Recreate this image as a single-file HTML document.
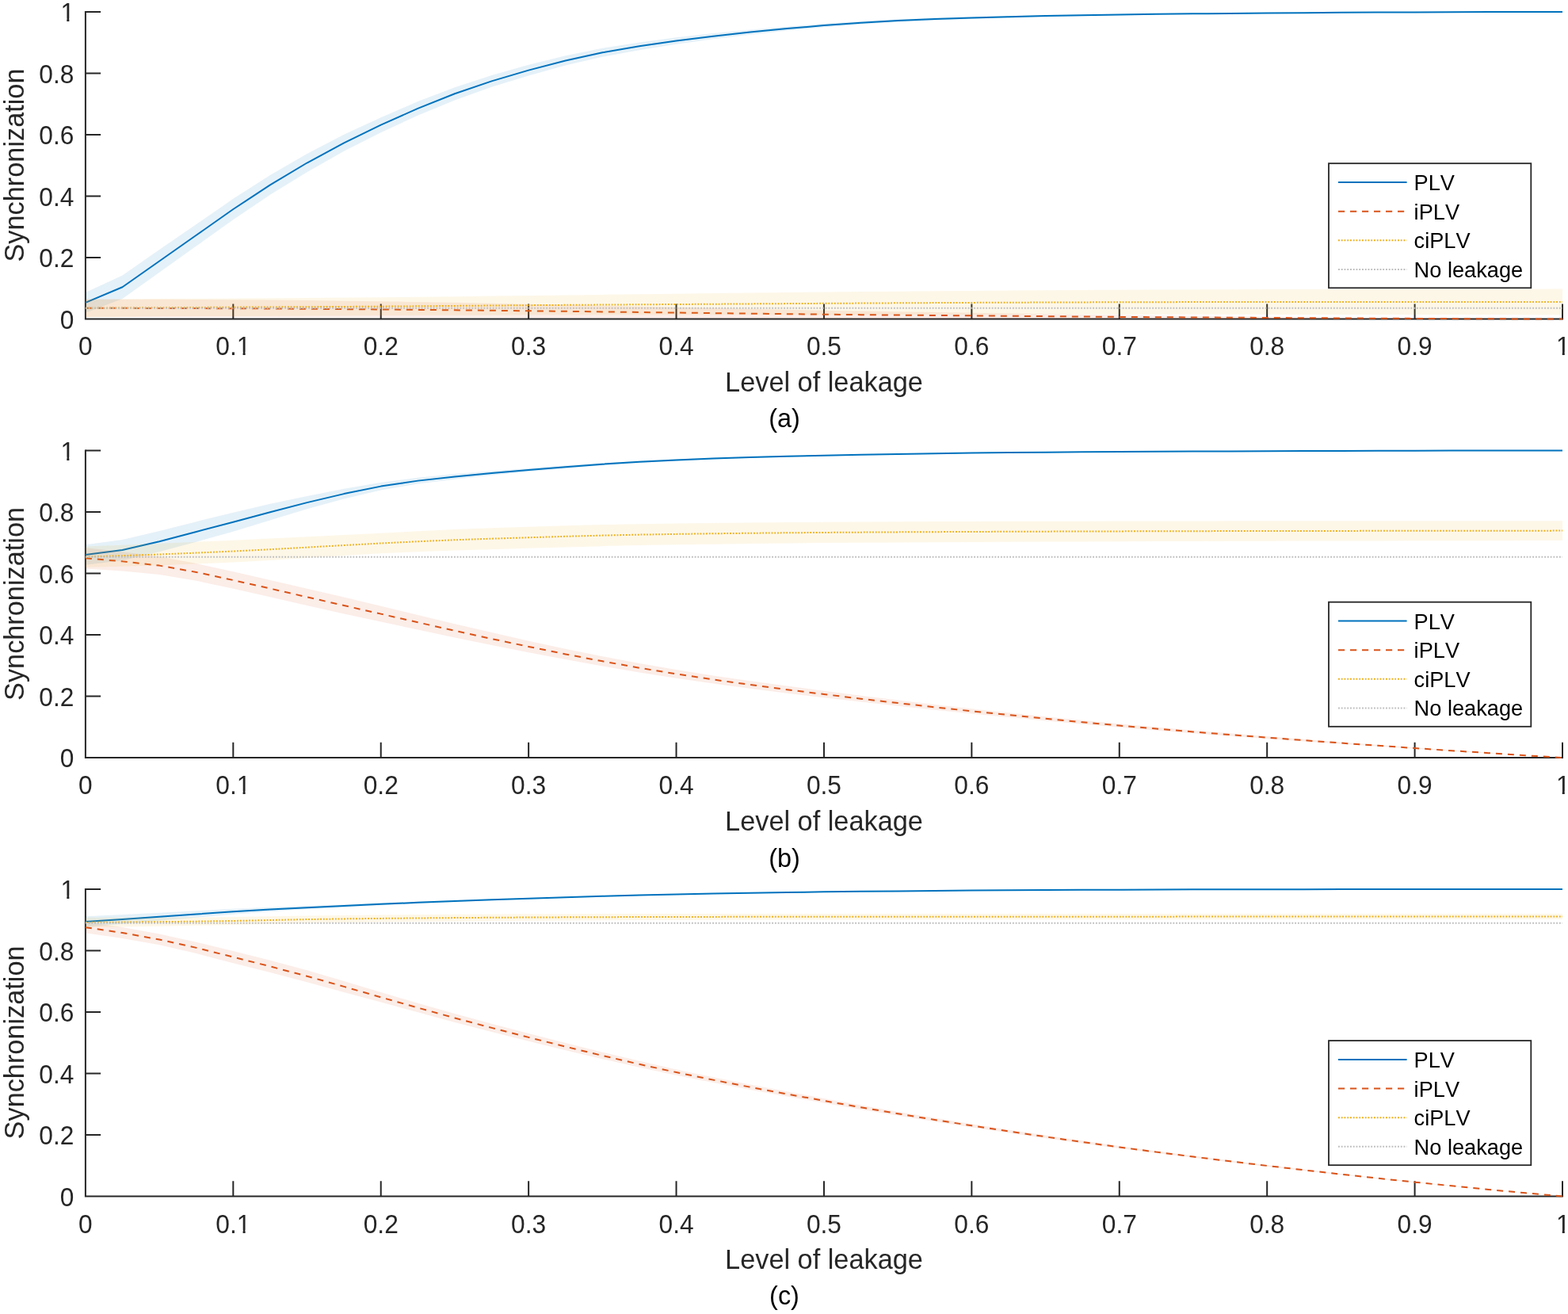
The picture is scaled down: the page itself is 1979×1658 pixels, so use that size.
<!DOCTYPE html>
<html lang="en">
<head>
<meta charset="utf-8">
<title>Synchronization vs. level of leakage</title>
<style>
html,body{margin:0;padding:0;background:#fff;}
body{width:1979px;height:1658px;}
svg{display:block;}
text{font-family:"Liberation Sans", Arial, Helvetica, sans-serif;font-kerning:none;font-variant-ligatures:none;}
.tk{font-size:31.7px;fill:#262626;}
.lb{font-size:34.3px;fill:#262626;}
.lg{font-size:27.2px;fill:#000;}
.cap{font-size:32.4px;fill:#000;}
.ax{stroke:#262626;stroke-width:2.0;fill:none;stroke-linecap:butt;}
</style>
</head>
<body>
<svg width="1979" height="1658" viewBox="0 0 1979 1658" role="img" aria-label="Synchronization versus level of leakage for PLV, iPLV and ciPLV">
<rect x="0" y="0" width="1979" height="1658" fill="#ffffff"/>
<defs><clipPath id="c1e" clipPathUnits="userSpaceOnUse"><rect x="-18.63" y="-30" width="19.63" height="26.03"/><rect x="-9.78" y="-4.47" width="3.04" height="5.47"/></clipPath><clipPath id="c1m" clipPathUnits="userSpaceOnUse"><rect x="-9.82" y="-30" width="19.63" height="26.03"/><rect x="-0.96" y="-4.47" width="3.04" height="5.47"/></clipPath><clipPath id="c01m" clipPathUnits="userSpaceOnUse"><rect x="-24.03" y="-30" width="29.94" height="40"/><rect x="3.4" y="-30" width="19.63" height="26.03"/><rect x="12.26" y="-4.47" width="3.04" height="5.47"/></clipPath></defs>
<g id="panel-a">
<path class="ax" d="M107.9 14 V402.6 H1973"/>
<path class="ax" d="M294.31 402.6 v-19.2M480.72 402.6 v-19.2M667.13 402.6 v-19.2M853.54 402.6 v-19.2M1039.95 402.6 v-19.2M1226.36 402.6 v-19.2M1412.77 402.6 v-19.2M1599.18 402.6 v-19.2M1785.59 402.6 v-19.2M1972 402.6 v-19.2M107.9 325.08 h19.2M107.9 247.56 h19.2M107.9 170.04 h19.2M107.9 92.52 h19.2M107.9 15 h19.2"/>
<polygon points="107.9,369.07 154.5,347.56 201.11,315.12 247.71,282.97 294.31,250.85 340.91,220.95 387.51,193.88 434.12,169.77 480.72,148.14 527.32,128.12 573.92,110.16 620.53,94.95 667.13,81.86 713.73,70.34 760.34,60.78 806.94,53.38 853.54,47.17 900.14,42.01 946.75,37.48 993.35,33.45 1039.95,29.73 1086.55,26.72 1133.16,24.27 1179.76,22.56 1226.36,21.2 1272.96,20.04 1319.57,19.09 1366.17,18.34 1412.77,17.71 1459.37,17.18 1505.97,16.74 1552.58,16.39 1599.18,16.11 1645.78,15.83 1692.39,15.56 1738.99,15.34 1785.59,15.2 1832.19,15.11 1878.8,15.03 1925.4,14.99 1972,15 1972,15 1925.4,15.07 1878.8,15.21 1832.19,15.38 1785.59,15.58 1738.99,15.84 1692.39,16.18 1645.78,16.58 1599.18,16.99 1552.58,17.42 1505.97,17.92 1459.37,18.53 1412.77,19.26 1366.17,20.12 1319.57,21.14 1272.96,22.41 1226.36,23.91 1179.76,25.67 1133.16,27.83 1086.55,30.8 1039.95,34.38 993.35,38.8 946.75,43.68 900.14,49.31 853.54,55.7 806.94,63.13 760.34,71.78 713.73,82.61 667.13,95.43 620.53,109.86 573.92,126.44 527.32,145.68 480.72,167.13 434.12,190.86 387.51,217.13 340.91,245.87 294.31,277.21 247.71,310.6 201.11,343.8 154.5,377.02 107.9,394.65" fill="#0072BD" fill-opacity="0.1" stroke="none"/>
<polyline points="107.9,381.86 154.5,362.29 201.11,329.46 247.71,296.79 294.31,264.03 340.91,233.41 387.51,205.51 434.12,180.31 480.72,157.64 527.32,136.9 573.92,118.3 620.53,102.4 667.13,88.64 713.73,76.47 760.34,66.28 806.94,58.26 853.54,51.43 900.14,45.66 946.75,40.58 993.35,36.12 1039.95,32.05 1086.55,28.76 1133.16,26.05 1179.76,24.12 1226.36,22.56 1272.96,21.22 1319.57,20.12 1366.17,19.23 1412.77,18.49 1459.37,17.85 1505.97,17.33 1552.58,16.91 1599.18,16.55 1645.78,16.21 1692.39,15.87 1738.99,15.59 1785.59,15.39 1832.19,15.25 1878.8,15.12 1925.4,15.03 1972,15" fill="none" stroke="#0072BD" stroke-width="2.0" stroke-linejoin="round"/>
<polygon points="107.9,377.62 154.5,377.65 201.11,377.78 247.71,377.98 294.31,378.22 340.91,378.56 387.51,379.07 434.12,379.69 480.72,380.34 527.32,381.04 573.92,381.84 620.53,382.72 667.13,383.63 713.73,384.61 760.34,385.65 806.94,386.72 853.54,387.77 900.14,388.8 946.75,389.84 993.35,390.84 1039.95,391.76 1086.55,392.57 1133.16,393.32 1179.76,394.04 1226.36,394.75 1272.96,395.5 1319.57,396.25 1366.17,396.97 1412.77,397.61 1459.37,398.16 1505.97,398.67 1552.58,399.14 1599.18,399.6 1645.78,400.06 1692.39,400.51 1738.99,400.93 1785.59,401.32 1832.19,401.67 1878.8,402.01 1925.4,402.32 1972,402.6 1972,402.6 1925.4,402.58 1878.8,402.55 1832.19,402.52 1785.59,402.49 1738.99,402.45 1692.39,402.42 1645.78,402.38 1599.18,402.34 1552.58,402.3 1505.97,402.26 1459.37,402.21 1412.77,402.17 1366.17,402.11 1319.57,402.05 1272.96,401.98 1226.36,401.92 1179.76,401.86 1133.16,401.79 1086.55,401.73 1039.95,401.66 993.35,401.58 946.75,401.49 900.14,401.4 853.54,401.31 806.94,401.22 760.34,401.13 713.73,401.04 667.13,400.95 620.53,400.87 573.92,400.78 527.32,400.69 480.72,400.6 434.12,400.51 387.51,400.41 340.91,400.32 294.31,400.24 247.71,400.17 201.11,400.1 154.5,400.03 107.9,399.98" fill="#D95319" fill-opacity="0.1" stroke="none"/>
<polyline points="107.9,388.8 154.5,388.84 201.11,388.94 247.71,389.07 294.31,389.23 340.91,389.44 387.51,389.74 434.12,390.1 480.72,390.47 527.32,390.87 573.92,391.31 620.53,391.79 667.13,392.29 713.73,392.82 760.34,393.39 806.94,393.97 853.54,394.54 900.14,395.1 946.75,395.67 993.35,396.21 1039.95,396.71 1086.55,397.15 1133.16,397.56 1179.76,397.95 1226.36,398.34 1272.96,398.74 1319.57,399.15 1366.17,399.54 1412.77,399.89 1459.37,400.19 1505.97,400.46 1552.58,400.72 1599.18,400.97 1645.78,401.22 1692.39,401.46 1738.99,401.69 1785.59,401.9 1832.19,402.1 1878.8,402.28 1925.4,402.45 1972,402.6" fill="none" stroke="#D95319" stroke-width="2.0" stroke-linejoin="round" stroke-dasharray="8 7"/>
<polygon points="107.9,377.68 154.5,377.38 201.11,377.08 247.71,376.77 294.31,376.47 340.91,376.17 387.51,375.88 434.12,375.58 480.72,375.24 527.32,374.78 573.92,374.2 620.53,373.57 667.13,372.99 713.73,372.44 760.34,371.88 806.94,371.3 853.54,370.71 900.14,370.11 946.75,369.53 993.35,368.98 1039.95,368.49 1086.55,368.05 1133.16,367.63 1179.76,367.24 1226.36,366.88 1272.96,366.56 1319.57,366.26 1366.17,366 1412.77,365.78 1459.37,365.58 1505.97,365.4 1552.58,365.24 1599.18,365.12 1645.78,365.02 1692.39,364.93 1738.99,364.85 1785.59,364.78 1832.19,364.72 1878.8,364.67 1925.4,364.64 1972,364.62 1972,397.17 1925.4,397.15 1878.8,397.12 1832.19,397.09 1785.59,397.05 1738.99,397 1692.39,396.94 1645.78,396.89 1599.18,396.83 1552.58,396.78 1505.97,396.77 1459.37,396.77 1412.77,396.79 1366.17,396.81 1319.57,396.84 1272.96,396.88 1226.36,396.92 1179.76,396.97 1133.16,397.03 1086.55,397.1 1039.95,397.17 993.35,397.23 946.75,397.27 900.14,397.28 853.54,397.28 806.94,397.25 760.34,397.24 713.73,397.25 667.13,397.33 620.53,397.47 573.92,397.66 527.32,397.87 480.72,398.1 434.12,398.32 387.51,398.5 340.91,398.68 294.31,398.89 247.71,399.12 201.11,399.37 154.5,399.64 107.9,399.93" fill="#EDB120" fill-opacity="0.1" stroke="none"/>
<polyline points="107.9,388.8 154.5,388.51 201.11,388.22 247.71,387.95 294.31,387.68 340.91,387.43 387.51,387.19 434.12,386.95 480.72,386.67 527.32,386.33 573.92,385.93 620.53,385.52 667.13,385.16 713.73,384.85 760.34,384.56 806.94,384.28 853.54,384 900.14,383.7 946.75,383.4 993.35,383.1 1039.95,382.83 1086.55,382.58 1133.16,382.33 1179.76,382.1 1226.36,381.9 1272.96,381.72 1319.57,381.55 1366.17,381.4 1412.77,381.28 1459.37,381.18 1505.97,381.08 1552.58,381.01 1599.18,380.97 1645.78,380.95 1692.39,380.94 1738.99,380.93 1785.59,380.91 1832.19,380.91 1878.8,380.9 1925.4,380.9 1972,380.89" fill="none" stroke="#EDB120" stroke-width="2.0" stroke-linejoin="round" stroke-dasharray="1.9 1.85"/>
<line x1="107.9" y1="388.8" x2="1972" y2="388.8" stroke="#BFBFBF" stroke-width="2.0" stroke-dasharray="1.9 1.85"/>
<g transform="translate(93.4 415) scale(1 1.03)"><text class="tk" text-anchor="end">0</text></g>
<g transform="translate(93.4 337.48) scale(1 1.03)"><text class="tk" text-anchor="end">0.2</text></g>
<g transform="translate(93.4 259.96) scale(1 1.03)"><text class="tk" text-anchor="end">0.4</text></g>
<g transform="translate(93.4 182.44) scale(1 1.03)"><text class="tk" text-anchor="end">0.6</text></g>
<g transform="translate(93.4 104.92) scale(1 1.03)"><text class="tk" text-anchor="end">0.8</text></g>
<g transform="translate(94.1 27.4) scale(1 1.03)" clip-path="url(#c1e)"><text class="tk" text-anchor="end">1</text></g>
<g transform="translate(107.9 448.4) scale(1 1.03)"><text class="tk" text-anchor="middle">0</text></g>
<g transform="translate(294.31 448.4) scale(1 1.03)" clip-path="url(#c01m)"><text class="tk" text-anchor="middle">0.1</text></g>
<g transform="translate(480.72 448.4) scale(1 1.03)"><text class="tk" text-anchor="middle">0.2</text></g>
<g transform="translate(667.13 448.4) scale(1 1.03)"><text class="tk" text-anchor="middle">0.3</text></g>
<g transform="translate(853.54 448.4) scale(1 1.03)"><text class="tk" text-anchor="middle">0.4</text></g>
<g transform="translate(1039.95 448.4) scale(1 1.03)"><text class="tk" text-anchor="middle">0.5</text></g>
<g transform="translate(1226.36 448.4) scale(1 1.03)"><text class="tk" text-anchor="middle">0.6</text></g>
<g transform="translate(1412.77 448.4) scale(1 1.03)"><text class="tk" text-anchor="middle">0.7</text></g>
<g transform="translate(1599.18 448.4) scale(1 1.03)"><text class="tk" text-anchor="middle">0.8</text></g>
<g transform="translate(1785.59 448.4) scale(1 1.03)"><text class="tk" text-anchor="middle">0.9</text></g>
<g transform="translate(1972.7 448.4) scale(1 1.03)" clip-path="url(#c1m)"><text class="tk" text-anchor="middle">1</text></g>
<text class="lb" x="1040" y="493.8" text-anchor="middle">Level of leakage</text>
<text class="lb" transform="translate(30.4 208.5) rotate(-90)" text-anchor="middle">Synchronization</text>
<text class="cap" x="990" y="539" text-anchor="middle">(a)</text>
<g id="legend-a">
<rect x="1677" y="206.2" width="255.3" height="157.1" fill="#fff" stroke="#262626" stroke-width="1.8"/>
<line x1="1689" y1="230.1" x2="1775.6" y2="230.1" stroke="#0072BD" stroke-width="2.0"/>
<text class="lg" transform="translate(1784.6 240.1) scale(1 1.035)">PLV</text>
<line x1="1689" y1="266.7" x2="1775.6" y2="266.7" stroke="#D95319" stroke-width="2.0" stroke-dasharray="8.2 6.8"/>
<text class="lg" transform="translate(1784.6 276.7) scale(1 1.035)">iPLV</text>
<line x1="1689" y1="303.3" x2="1775.6" y2="303.3" stroke="#EDB120" stroke-width="2.0" stroke-dasharray="1.9 1.85"/>
<text class="lg" transform="translate(1784.6 313.3) scale(1 1.035)">ciPLV</text>
<line x1="1689" y1="339.9" x2="1775.6" y2="339.9" stroke="#BFBFBF" stroke-width="2.0" stroke-dasharray="1.9 1.85"/>
<text class="lg" transform="translate(1784.6 349.9) scale(1 1.035)">No leakage</text>
</g>
</g>
<g id="panel-b">
<path class="ax" d="M107.9 567.45 V956.05 H1973"/>
<path class="ax" d="M294.31 956.05 v-19.2M480.72 956.05 v-19.2M667.13 956.05 v-19.2M853.54 956.05 v-19.2M1039.95 956.05 v-19.2M1226.36 956.05 v-19.2M1412.77 956.05 v-19.2M1599.18 956.05 v-19.2M1785.59 956.05 v-19.2M1972 956.05 v-19.2M107.9 878.53 h19.2M107.9 801.01 h19.2M107.9 723.49 h19.2M107.9 645.97 h19.2M107.9 568.45 h19.2"/>
<polygon points="107.9,687.25 154.5,680.9 201.11,670 247.71,658.15 294.31,646.67 340.91,635.8 387.51,626.02 434.12,616.79 480.72,608.76 527.32,602.65 573.92,598.06 620.53,594.17 667.13,590.7 713.73,587.22 760.34,584.07 806.94,581.48 853.54,579.3 900.14,577.53 946.75,576.09 993.35,574.94 1039.95,573.99 1086.55,573.16 1133.16,572.39 1179.76,571.71 1226.36,571.16 1272.96,570.72 1319.57,570.34 1366.17,570.02 1412.77,569.77 1459.37,569.57 1505.97,569.4 1552.58,569.25 1599.18,569.11 1645.78,568.97 1692.39,568.82 1738.99,568.7 1785.59,568.61 1832.19,568.56 1878.8,568.5 1925.4,568.46 1972,568.45 1972,568.45 1925.4,568.47 1878.8,568.52 1832.19,568.59 1785.59,568.67 1738.99,568.79 1692.39,568.95 1645.78,569.14 1599.18,569.34 1552.58,569.53 1505.97,569.73 1459.37,569.96 1412.77,570.23 1366.17,570.56 1319.57,570.95 1272.96,571.41 1226.36,571.94 1179.76,572.58 1133.16,573.38 1086.55,574.3 1039.95,575.31 993.35,576.47 946.75,577.86 900.14,579.56 853.54,581.63 806.94,584.2 760.34,587.33 713.73,591.13 667.13,595.35 620.53,599.71 573.92,604.73 527.32,610.61 480.72,618.45 434.12,629.41 387.51,642.28 340.91,656.53 294.31,670.7 247.71,683.79 201.11,696.36 154.5,707.16 107.9,712.83" fill="#0072BD" fill-opacity="0.1" stroke="none"/>
<polyline points="107.9,700.04 154.5,694.03 201.11,683.18 247.71,670.97 294.31,658.68 340.91,646.16 387.51,634.15 434.12,623.1 480.72,613.61 527.32,606.63 573.92,601.4 620.53,596.94 667.13,593.02 713.73,589.17 760.34,585.7 806.94,582.84 853.54,580.47 900.14,578.55 946.75,576.98 993.35,575.7 1039.95,574.65 1086.55,573.73 1133.16,572.88 1179.76,572.15 1226.36,571.55 1272.96,571.07 1319.57,570.65 1366.17,570.29 1412.77,570 1459.37,569.77 1505.97,569.57 1552.58,569.39 1599.18,569.23 1645.78,569.05 1692.39,568.89 1738.99,568.74 1785.59,568.64 1832.19,568.57 1878.8,568.51 1925.4,568.47 1972,568.45" fill="none" stroke="#0072BD" stroke-width="2.0" stroke-linejoin="round"/>
<polygon points="107.9,691.13 154.5,696.16 201.11,702.18 247.71,711.06 294.31,721.36 340.91,731.95 387.51,742.71 434.12,753.54 480.72,764.73 527.32,776.05 573.92,787.16 620.53,798.09 667.13,808.68 713.73,818.73 760.34,828.19 806.94,837.01 853.54,845.12 900.14,852.43 946.75,859.19 993.35,865.59 1039.95,871.72 1086.55,877.66 1133.16,883.39 1179.76,888.94 1226.36,894.23 1272.96,899.26 1319.57,904.14 1366.17,908.82 1412.77,913.26 1459.37,917.47 1505.97,921.47 1552.58,925.34 1599.18,929.11 1645.78,932.8 1692.39,936.38 1738.99,939.86 1785.59,943.26 1832.19,946.58 1878.8,949.82 1925.4,952.98 1972,956.05 1972,956.05 1925.4,953.37 1878.8,950.59 1832.19,947.74 1785.59,944.81 1738.99,941.8 1692.39,938.7 1645.78,935.51 1599.18,932.21 1552.58,928.82 1505.97,925.32 1459.37,921.67 1412.77,917.83 1366.17,913.75 1319.57,909.47 1272.96,905.01 1226.36,900.43 1179.76,895.67 1133.16,890.72 1086.55,885.62 1039.95,880.3 993.35,874.73 946.75,868.8 900.14,862.49 853.54,855.74 806.94,848.38 760.34,840.49 713.73,832.07 667.13,823.19 620.53,813.96 573.92,804.4 527.32,794.53 480.72,784.58 434.12,774.47 387.51,763.96 340.91,753.23 294.31,742.68 247.71,732.82 201.11,725.03 154.5,720.59 107.9,717.48" fill="#D95319" fill-opacity="0.1" stroke="none"/>
<polyline points="107.9,704.3 154.5,708.37 201.11,713.61 247.71,721.94 294.31,732.02 340.91,742.59 387.51,753.34 434.12,764.01 480.72,774.65 527.32,785.29 573.92,795.78 620.53,806.03 667.13,815.93 713.73,825.4 760.34,834.34 806.94,842.69 853.54,850.43 900.14,857.46 946.75,864 993.35,870.16 1039.95,876.01 1086.55,881.64 1133.16,887.06 1179.76,892.31 1226.36,897.33 1272.96,902.13 1319.57,906.8 1366.17,911.29 1412.77,915.55 1459.37,919.57 1505.97,923.4 1552.58,927.08 1599.18,930.66 1645.78,934.15 1692.39,937.54 1738.99,940.83 1785.59,944.03 1832.19,947.16 1878.8,950.21 1925.4,953.17 1972,956.05" fill="none" stroke="#D95319" stroke-width="2.0" stroke-linejoin="round" stroke-dasharray="8 7"/>
<polygon points="107.9,689.46 154.5,687.65 201.11,685.72 247.71,683.7 294.31,681.63 340.91,679.46 387.51,677.27 434.12,675.07 480.72,672.71 527.32,670.34 573.92,668.1 620.53,666.24 667.13,664.69 713.73,663.3 760.34,662.1 806.94,661.17 853.54,660.46 900.14,659.92 946.75,659.46 993.35,659.07 1039.95,658.76 1086.55,658.51 1133.16,658.29 1179.76,658.11 1226.36,657.96 1272.96,657.83 1319.57,657.72 1366.17,657.63 1412.77,657.55 1459.37,657.47 1505.97,657.41 1552.58,657.35 1599.18,657.32 1645.78,657.3 1692.39,657.29 1738.99,657.28 1785.59,657.27 1832.19,657.26 1878.8,657.24 1925.4,657.23 1972,657.21 1972,682.02 1925.4,682.1 1878.8,682.18 1832.19,682.26 1785.59,682.34 1738.99,682.43 1692.39,682.51 1645.78,682.59 1599.18,682.68 1552.58,682.8 1505.97,682.93 1459.37,683.08 1412.77,683.23 1366.17,683.39 1319.57,683.57 1272.96,683.76 1226.36,683.98 1179.76,684.21 1133.16,684.48 1086.55,684.77 1039.95,685.12 993.35,685.53 946.75,686.04 900.14,686.63 853.54,687.29 806.94,688.12 760.34,689.14 713.73,690.4 667.13,691.82 620.53,693.13 573.92,694.46 527.32,696.16 480.72,698.3 434.12,701.01 387.51,704.01 340.91,707.01 294.31,709.54 247.71,711.53 201.11,713.29 154.5,714.74 107.9,715.82" fill="#EDB120" fill-opacity="0.1" stroke="none"/>
<polyline points="107.9,702.64 154.5,701.19 201.11,699.5 247.71,697.62 294.31,695.58 340.91,693.23 387.51,690.64 434.12,688.04 480.72,685.51 527.32,683.25 573.92,681.28 620.53,679.68 667.13,678.26 713.73,676.85 760.34,675.62 806.94,674.65 853.54,673.88 900.14,673.27 946.75,672.75 993.35,672.3 1039.95,671.94 1086.55,671.64 1133.16,671.38 1179.76,671.16 1226.36,670.97 1272.96,670.8 1319.57,670.65 1366.17,670.51 1412.77,670.39 1459.37,670.27 1505.97,670.17 1552.58,670.08 1599.18,670 1645.78,669.94 1692.39,669.9 1738.99,669.85 1785.59,669.81 1832.19,669.76 1878.8,669.71 1925.4,669.66 1972,669.61" fill="none" stroke="#EDB120" stroke-width="2.0" stroke-linejoin="round" stroke-dasharray="1.9 1.85"/>
<line x1="107.9" y1="702.75" x2="1972" y2="702.75" stroke="#BFBFBF" stroke-width="2.0" stroke-dasharray="1.9 1.85"/>
<g transform="translate(93.4 968.45) scale(1 1.03)"><text class="tk" text-anchor="end">0</text></g>
<g transform="translate(93.4 890.93) scale(1 1.03)"><text class="tk" text-anchor="end">0.2</text></g>
<g transform="translate(93.4 813.41) scale(1 1.03)"><text class="tk" text-anchor="end">0.4</text></g>
<g transform="translate(93.4 735.89) scale(1 1.03)"><text class="tk" text-anchor="end">0.6</text></g>
<g transform="translate(93.4 658.37) scale(1 1.03)"><text class="tk" text-anchor="end">0.8</text></g>
<g transform="translate(94.1 580.85) scale(1 1.03)" clip-path="url(#c1e)"><text class="tk" text-anchor="end">1</text></g>
<g transform="translate(107.9 1002.35) scale(1 1.03)"><text class="tk" text-anchor="middle">0</text></g>
<g transform="translate(294.31 1002.35) scale(1 1.03)" clip-path="url(#c01m)"><text class="tk" text-anchor="middle">0.1</text></g>
<g transform="translate(480.72 1002.35) scale(1 1.03)"><text class="tk" text-anchor="middle">0.2</text></g>
<g transform="translate(667.13 1002.35) scale(1 1.03)"><text class="tk" text-anchor="middle">0.3</text></g>
<g transform="translate(853.54 1002.35) scale(1 1.03)"><text class="tk" text-anchor="middle">0.4</text></g>
<g transform="translate(1039.95 1002.35) scale(1 1.03)"><text class="tk" text-anchor="middle">0.5</text></g>
<g transform="translate(1226.36 1002.35) scale(1 1.03)"><text class="tk" text-anchor="middle">0.6</text></g>
<g transform="translate(1412.77 1002.35) scale(1 1.03)"><text class="tk" text-anchor="middle">0.7</text></g>
<g transform="translate(1599.18 1002.35) scale(1 1.03)"><text class="tk" text-anchor="middle">0.8</text></g>
<g transform="translate(1785.59 1002.35) scale(1 1.03)"><text class="tk" text-anchor="middle">0.9</text></g>
<g transform="translate(1972.7 1002.35) scale(1 1.03)" clip-path="url(#c1m)"><text class="tk" text-anchor="middle">1</text></g>
<text class="lb" x="1040" y="1047.75" text-anchor="middle">Level of leakage</text>
<text class="lb" transform="translate(30.4 761.95) rotate(-90)" text-anchor="middle">Synchronization</text>
<text class="cap" x="990" y="1094.25" text-anchor="middle">(b)</text>
<g id="legend-b">
<rect x="1677" y="759.7" width="255.3" height="157.1" fill="#fff" stroke="#262626" stroke-width="1.8"/>
<line x1="1689" y1="783.6" x2="1775.6" y2="783.6" stroke="#0072BD" stroke-width="2.0"/>
<text class="lg" transform="translate(1784.6 793.6) scale(1 1.035)">PLV</text>
<line x1="1689" y1="820.2" x2="1775.6" y2="820.2" stroke="#D95319" stroke-width="2.0" stroke-dasharray="8.2 6.8"/>
<text class="lg" transform="translate(1784.6 830.2) scale(1 1.035)">iPLV</text>
<line x1="1689" y1="856.8" x2="1775.6" y2="856.8" stroke="#EDB120" stroke-width="2.0" stroke-dasharray="1.9 1.85"/>
<text class="lg" transform="translate(1784.6 866.8) scale(1 1.035)">ciPLV</text>
<line x1="1689" y1="893.4" x2="1775.6" y2="893.4" stroke="#BFBFBF" stroke-width="2.0" stroke-dasharray="1.9 1.85"/>
<text class="lg" transform="translate(1784.6 903.4) scale(1 1.035)">No leakage</text>
</g>
</g>
<g id="panel-c">
<path class="ax" d="M107.9 1120.88 V1509.48 H1973"/>
<path class="ax" d="M294.31 1509.48 v-19.2M480.72 1509.48 v-19.2M667.13 1509.48 v-19.2M853.54 1509.48 v-19.2M1039.95 1509.48 v-19.2M1226.36 1509.48 v-19.2M1412.77 1509.48 v-19.2M1599.18 1509.48 v-19.2M1785.59 1509.48 v-19.2M1972 1509.48 v-19.2M107.9 1431.96 h19.2M107.9 1354.44 h19.2M107.9 1276.92 h19.2M107.9 1199.4 h19.2M107.9 1121.88 h19.2"/>
<polygon points="107.9,1156.26 154.5,1154.04 201.11,1151.73 247.71,1149.21 294.31,1146.8 340.91,1144.85 387.51,1143 434.12,1141.13 480.72,1139.32 527.32,1137.52 573.92,1135.83 620.53,1134.35 667.13,1132.93 713.73,1131.49 760.34,1130.16 806.94,1128.98 853.54,1127.94 900.14,1127.05 946.75,1126.27 993.35,1125.57 1039.95,1124.98 1086.55,1124.49 1133.16,1124.05 1179.76,1123.67 1226.36,1123.35 1272.96,1123.08 1319.57,1122.85 1366.17,1122.65 1412.77,1122.49 1459.37,1122.36 1505.97,1122.25 1552.58,1122.17 1599.18,1122.11 1645.78,1122.07 1692.39,1122.03 1738.99,1121.99 1785.59,1121.95 1832.19,1121.92 1878.8,1121.9 1925.4,1121.89 1972,1121.88 1972,1121.88 1925.4,1121.89 1878.8,1121.91 1832.19,1121.95 1785.59,1121.99 1738.99,1122.05 1692.39,1122.12 1645.78,1122.19 1599.18,1122.27 1552.58,1122.37 1505.97,1122.49 1459.37,1122.65 1412.77,1122.82 1366.17,1123.03 1319.57,1123.28 1272.96,1123.57 1226.36,1123.9 1179.76,1124.27 1133.16,1124.71 1086.55,1125.21 1039.95,1125.76 993.35,1126.41 946.75,1127.18 900.14,1128.03 853.54,1129 806.94,1130.13 760.34,1131.43 713.73,1132.89 667.13,1134.48 620.53,1136.15 573.92,1138 527.32,1140.14 480.72,1142.42 434.12,1144.73 387.51,1147.27 340.91,1150.31 294.31,1153.78 247.71,1157.69 201.11,1161.8 154.5,1165.81 107.9,1169.83" fill="#0072BD" fill-opacity="0.1" stroke="none"/>
<polyline points="107.9,1163.04 154.5,1159.93 201.11,1156.76 247.71,1153.45 294.31,1150.29 340.91,1147.58 387.51,1145.14 434.12,1142.93 480.72,1140.87 527.32,1138.83 573.92,1136.92 620.53,1135.25 667.13,1133.7 713.73,1132.19 760.34,1130.79 806.94,1129.56 853.54,1128.47 900.14,1127.54 946.75,1126.73 993.35,1125.99 1039.95,1125.37 1086.55,1124.85 1133.16,1124.38 1179.76,1123.97 1226.36,1123.62 1272.96,1123.33 1319.57,1123.06 1366.17,1122.84 1412.77,1122.66 1459.37,1122.51 1505.97,1122.37 1552.58,1122.27 1599.18,1122.19 1645.78,1122.13 1692.39,1122.07 1738.99,1122.02 1785.59,1121.97 1832.19,1121.93 1878.8,1121.91 1925.4,1121.89 1972,1121.88" fill="none" stroke="#0072BD" stroke-width="2.0" stroke-linejoin="round"/>
<polygon points="107.9,1162.97 154.5,1170.07 201.11,1178.55 247.71,1188.66 294.31,1200.02 340.91,1211.84 387.51,1224.21 434.12,1237.91 480.72,1252.11 527.32,1265.76 573.92,1279.05 620.53,1291.75 667.13,1304.05 713.73,1316.09 760.34,1327.72 806.94,1338.86 853.54,1349.4 900.14,1359.16 946.75,1368.42 993.35,1377.37 1039.95,1386.03 1086.55,1394.48 1133.16,1402.67 1179.76,1410.57 1226.36,1418.14 1272.96,1425.41 1319.57,1432.49 1366.17,1439.33 1412.77,1445.91 1459.37,1452.23 1505.97,1458.32 1552.58,1464.22 1599.18,1469.94 1645.78,1475.51 1692.39,1480.93 1738.99,1486.16 1785.59,1491.19 1832.19,1496.03 1878.8,1500.7 1925.4,1505.18 1972,1509.48 1972,1509.48 1925.4,1505.4 1878.8,1501.13 1832.19,1496.7 1785.59,1492.11 1738.99,1487.33 1692.39,1482.35 1645.78,1477.19 1599.18,1471.89 1552.58,1466.45 1505.97,1460.84 1459.37,1455.04 1412.77,1449.01 1366.17,1442.74 1319.57,1436.21 1272.96,1429.46 1226.36,1422.53 1179.76,1415.3 1133.16,1407.76 1086.55,1399.94 1039.95,1391.84 993.35,1383.54 946.75,1374.96 900.14,1366.09 853.54,1356.77 806.94,1346.74 760.34,1336.19 713.73,1325.18 667.13,1313.74 620.53,1302.01 573.92,1289.9 527.32,1277.31 480.72,1264.52 434.12,1251.91 387.51,1239.32 340.91,1226.95 294.31,1215.14 247.71,1203.11 201.11,1192.35 154.5,1183.96 107.9,1177.31" fill="#D95319" fill-opacity="0.1" stroke="none"/>
<polyline points="107.9,1170.14 154.5,1177.02 201.11,1185.45 247.71,1195.89 294.31,1207.58 340.91,1219.4 387.51,1231.76 434.12,1244.91 480.72,1258.32 527.32,1271.53 573.92,1284.48 620.53,1296.88 667.13,1308.9 713.73,1320.64 760.34,1331.96 806.94,1342.8 853.54,1353.08 900.14,1362.62 946.75,1371.69 993.35,1380.46 1039.95,1388.94 1086.55,1397.21 1133.16,1405.22 1179.76,1412.94 1226.36,1420.33 1272.96,1427.44 1319.57,1434.35 1366.17,1441.04 1412.77,1447.46 1459.37,1453.63 1505.97,1459.58 1552.58,1465.33 1599.18,1470.91 1645.78,1476.35 1692.39,1481.64 1738.99,1486.75 1785.59,1491.65 1832.19,1496.36 1878.8,1500.91 1925.4,1505.29 1972,1509.48" fill="none" stroke="#D95319" stroke-width="2.0" stroke-linejoin="round" stroke-dasharray="8 7"/>
<polygon points="107.9,1157.73 154.5,1157.76 201.11,1157.68 247.71,1157.47 294.31,1157.09 340.91,1156.33 387.51,1155.5 434.12,1154.92 480.72,1154.47 527.32,1154.09 573.92,1153.75 620.53,1153.47 667.13,1153.28 713.73,1153.15 760.34,1153.07 806.94,1153.02 853.54,1153.02 900.14,1153.04 946.75,1153.06 993.35,1153.08 1039.95,1153.08 1086.55,1153.08 1133.16,1153.08 1179.76,1153.08 1226.36,1153.08 1272.96,1153.08 1319.57,1153.08 1366.17,1153.08 1412.77,1153.08 1459.37,1153.08 1505.97,1153.08 1552.58,1153.08 1599.18,1153.08 1645.78,1153.08 1692.39,1153.08 1738.99,1153.08 1785.59,1153.08 1832.19,1153.08 1878.8,1153.08 1925.4,1153.08 1972,1153.08 1972,1160.06 1925.4,1160.06 1878.8,1160.06 1832.19,1160.07 1785.59,1160.07 1738.99,1160.08 1692.39,1160.09 1645.78,1160.11 1599.18,1160.12 1552.58,1160.14 1505.97,1160.16 1459.37,1160.18 1412.77,1160.2 1366.17,1160.22 1319.57,1160.25 1272.96,1160.28 1226.36,1160.31 1179.76,1160.34 1133.16,1160.37 1086.55,1160.41 1039.95,1160.45 993.35,1160.51 946.75,1160.61 900.14,1160.74 853.54,1160.89 806.94,1161.08 760.34,1161.3 713.73,1161.54 667.13,1161.8 620.53,1162.1 573.92,1162.45 527.32,1162.86 480.72,1163.33 434.12,1163.89 387.51,1164.62 340.91,1165.73 294.31,1166.9 247.71,1167.82 201.11,1168.64 154.5,1169.42 107.9,1170.14" fill="#EDB120" fill-opacity="0.1" stroke="none"/>
<polyline points="107.9,1163.93 154.5,1163.59 201.11,1163.16 247.71,1162.64 294.31,1162 340.91,1161.03 387.51,1160.06 434.12,1159.41 480.72,1158.9 527.32,1158.47 573.92,1158.1 620.53,1157.78 667.13,1157.54 713.73,1157.35 760.34,1157.18 806.94,1157.05 853.54,1156.96 900.14,1156.89 946.75,1156.83 993.35,1156.79 1039.95,1156.76 1086.55,1156.75 1133.16,1156.73 1179.76,1156.71 1226.36,1156.7 1272.96,1156.68 1319.57,1156.67 1366.17,1156.65 1412.77,1156.64 1459.37,1156.63 1505.97,1156.62 1552.58,1156.61 1599.18,1156.6 1645.78,1156.59 1692.39,1156.59 1738.99,1156.58 1785.59,1156.58 1832.19,1156.57 1878.8,1156.57 1925.4,1156.57 1972,1156.57" fill="none" stroke="#EDB120" stroke-width="2.0" stroke-linejoin="round" stroke-dasharray="1.9 1.85"/>
<line x1="107.9" y1="1164.63" x2="1972" y2="1164.63" stroke="#BFBFBF" stroke-width="2.0" stroke-dasharray="1.9 1.85"/>
<g transform="translate(93.4 1521.88) scale(1 1.03)"><text class="tk" text-anchor="end">0</text></g>
<g transform="translate(93.4 1444.36) scale(1 1.03)"><text class="tk" text-anchor="end">0.2</text></g>
<g transform="translate(93.4 1366.84) scale(1 1.03)"><text class="tk" text-anchor="end">0.4</text></g>
<g transform="translate(93.4 1289.32) scale(1 1.03)"><text class="tk" text-anchor="end">0.6</text></g>
<g transform="translate(93.4 1211.8) scale(1 1.03)"><text class="tk" text-anchor="end">0.8</text></g>
<g transform="translate(94.1 1134.28) scale(1 1.03)" clip-path="url(#c1e)"><text class="tk" text-anchor="end">1</text></g>
<g transform="translate(107.9 1555.98) scale(1 1.03)"><text class="tk" text-anchor="middle">0</text></g>
<g transform="translate(294.31 1555.98) scale(1 1.03)" clip-path="url(#c01m)"><text class="tk" text-anchor="middle">0.1</text></g>
<g transform="translate(480.72 1555.98) scale(1 1.03)"><text class="tk" text-anchor="middle">0.2</text></g>
<g transform="translate(667.13 1555.98) scale(1 1.03)"><text class="tk" text-anchor="middle">0.3</text></g>
<g transform="translate(853.54 1555.98) scale(1 1.03)"><text class="tk" text-anchor="middle">0.4</text></g>
<g transform="translate(1039.95 1555.98) scale(1 1.03)"><text class="tk" text-anchor="middle">0.5</text></g>
<g transform="translate(1226.36 1555.98) scale(1 1.03)"><text class="tk" text-anchor="middle">0.6</text></g>
<g transform="translate(1412.77 1555.98) scale(1 1.03)"><text class="tk" text-anchor="middle">0.7</text></g>
<g transform="translate(1599.18 1555.98) scale(1 1.03)"><text class="tk" text-anchor="middle">0.8</text></g>
<g transform="translate(1785.59 1555.98) scale(1 1.03)"><text class="tk" text-anchor="middle">0.9</text></g>
<g transform="translate(1972.7 1555.98) scale(1 1.03)" clip-path="url(#c1m)"><text class="tk" text-anchor="middle">1</text></g>
<text class="lb" x="1040" y="1600.68" text-anchor="middle">Level of leakage</text>
<text class="lb" transform="translate(30.4 1315.38) rotate(-90)" text-anchor="middle">Synchronization</text>
<text class="cap" x="990" y="1646.48" text-anchor="middle">(c)</text>
<g id="legend-c">
<rect x="1677" y="1313.1" width="255.3" height="157.1" fill="#fff" stroke="#262626" stroke-width="1.8"/>
<line x1="1689" y1="1337" x2="1775.6" y2="1337" stroke="#0072BD" stroke-width="2.0"/>
<text class="lg" transform="translate(1784.6 1347) scale(1 1.035)">PLV</text>
<line x1="1689" y1="1373.6" x2="1775.6" y2="1373.6" stroke="#D95319" stroke-width="2.0" stroke-dasharray="8.2 6.8"/>
<text class="lg" transform="translate(1784.6 1383.6) scale(1 1.035)">iPLV</text>
<line x1="1689" y1="1410.2" x2="1775.6" y2="1410.2" stroke="#EDB120" stroke-width="2.0" stroke-dasharray="1.9 1.85"/>
<text class="lg" transform="translate(1784.6 1420.2) scale(1 1.035)">ciPLV</text>
<line x1="1689" y1="1446.8" x2="1775.6" y2="1446.8" stroke="#BFBFBF" stroke-width="2.0" stroke-dasharray="1.9 1.85"/>
<text class="lg" transform="translate(1784.6 1456.8) scale(1 1.035)">No leakage</text>
</g>
</g>
</svg>
</body>
</html>
